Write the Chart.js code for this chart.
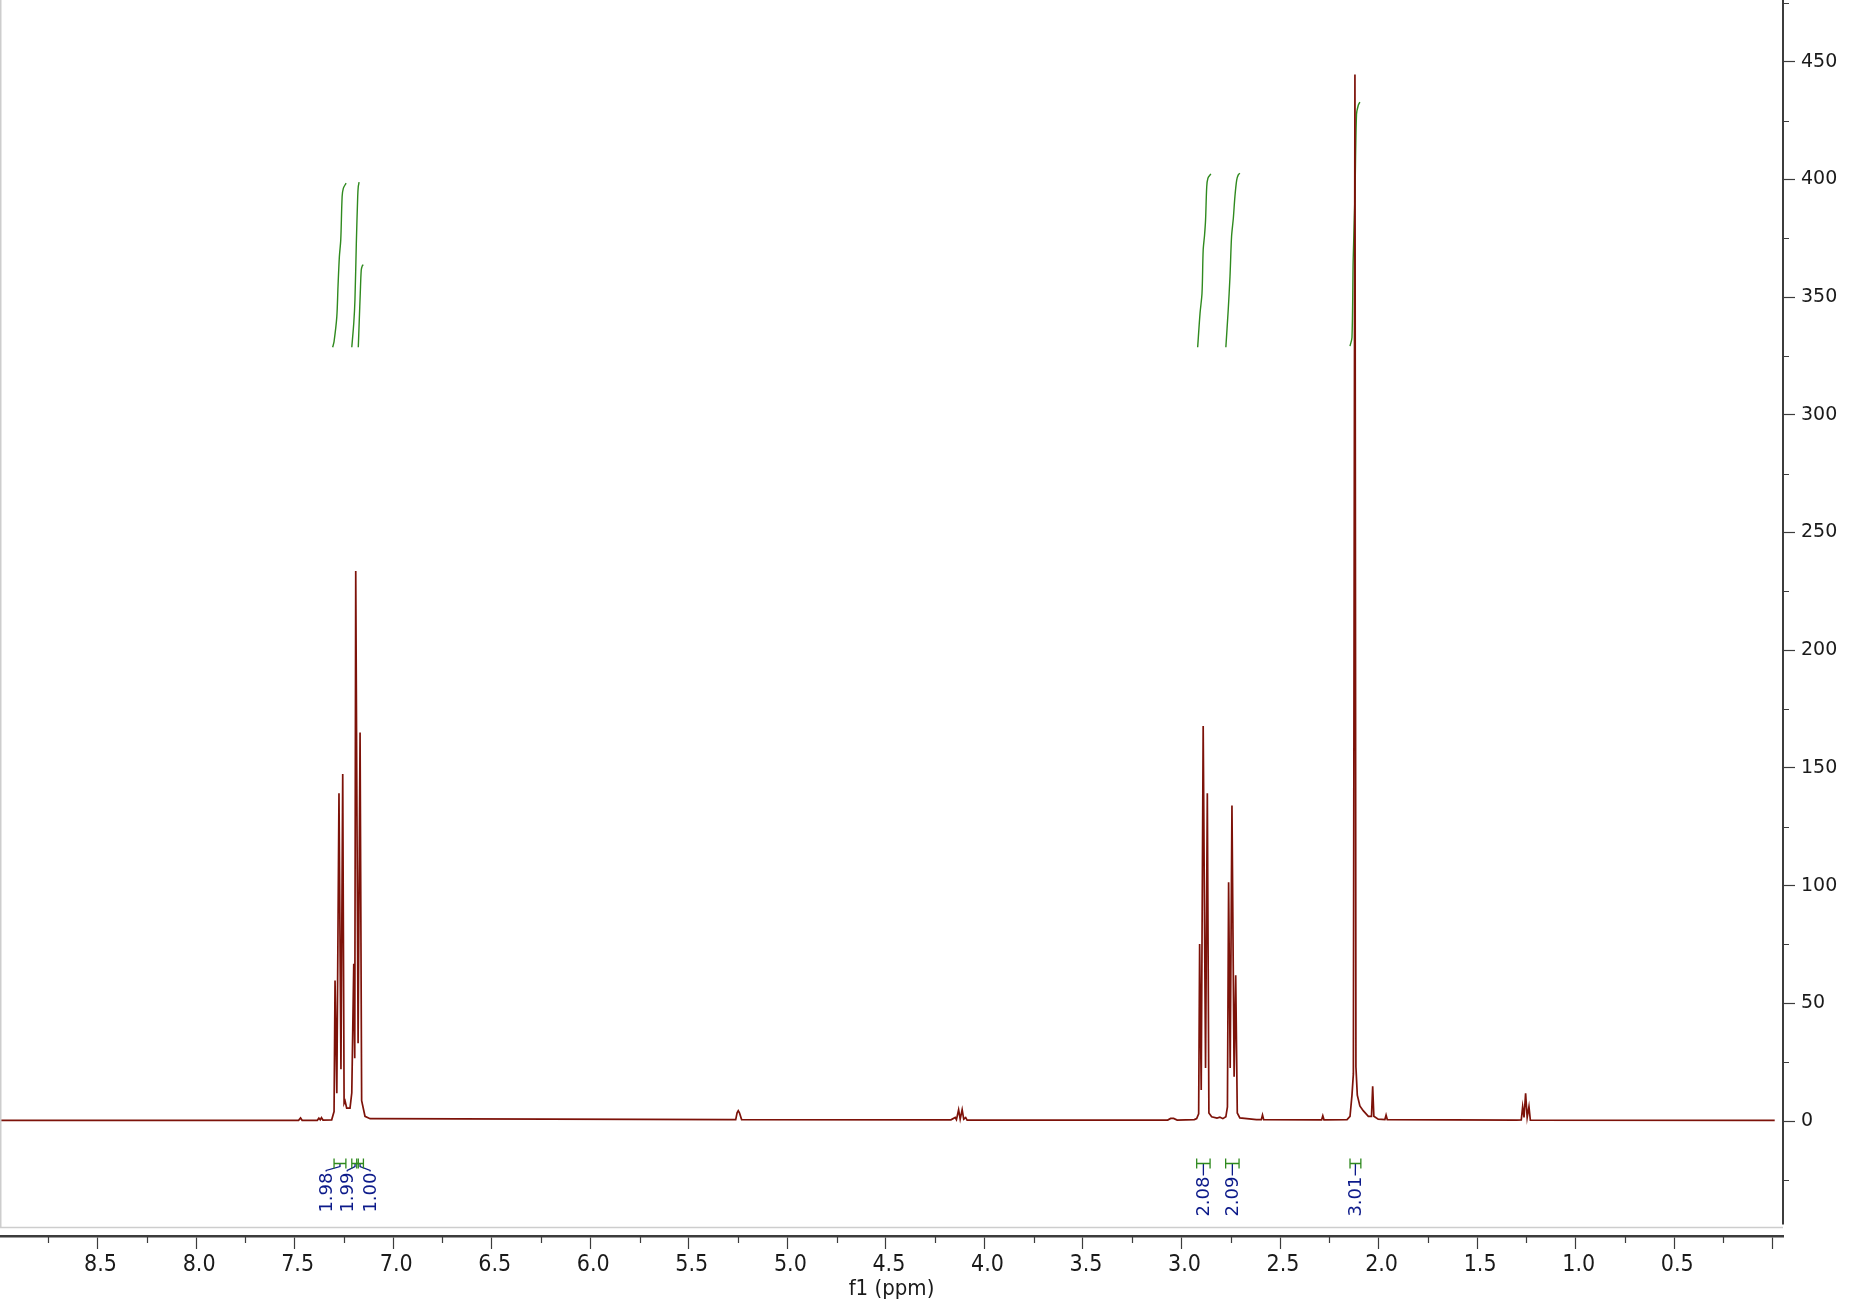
<!DOCTYPE html>
<html>
<head>
<meta charset="utf-8">
<script src="https://cdn.jsdelivr.net/npm/chart.js@4.4.1/dist/chart.umd.min.js"></script>
<style>
  html, body { margin:0; padding:0; background:#fff; }
  #wrap { width:1864px; height:1300px; }
</style>
</head>
<body>
<div id="wrap"><canvas id="nmr" width="1864" height="1300"></canvas></div>
<script>
"use strict";

// 1H spectrum: chemical shift (ppm) -> intensity
const shift = [
  8.995, 7.480, 7.470, 7.462, 7.385, 7.377, 7.370, 7.364, 7.356, 7.312,
  7.300, 7.295, 7.286, 7.275, 7.265, 7.256, 7.249, 7.244, 7.236, 7.219,
  7.210, 7.200, 7.195, 7.190, 7.178, 7.168, 7.160, 7.143, 7.117,
  5.300, 5.262, 5.255, 5.249, 5.243, 5.232,
  4.170, 4.148, 4.142, 4.131, 4.123, 4.113, 4.105, 4.095, 4.088,
  3.070, 3.055, 3.040, 3.022, 2.935,
  2.923, 2.913, 2.908, 2.900, 2.890, 2.878, 2.869, 2.861, 2.847, 2.820, 2.805, 2.790,
  2.775, 2.767, 2.761, 2.753, 2.744, 2.733, 2.725, 2.717, 2.704,
  2.620, 2.595, 2.589, 2.583, 2.300, 2.289, 2.283, 2.277,
  2.160, 2.145, 2.135, 2.128, 2.120, 2.115, 2.108, 2.095, 2.078, 2.052,
  2.036, 2.030, 2.024, 2.002, 1.968, 1.962, 1.956,
  1.300, 1.276, 1.269, 1.262, 1.254, 1.246, 1.237, 1.230, -0.010
];
const intensity = [
  0.3, 0.3, 1.3, 0.3, 0.3, 1.2, 0.5, 1.4, 0.4, 0.5,
  4.0, 59.7, 11.8, 139.2, 22.0, 147.4, 7.5, 8.5, 5.5, 5.5,
  12.0, 66.8, 26.7, 233.6, 33.0, 165.0, 8.6, 2.0, 1.0,
  0.6, 0.6, 3.5, 4.4, 3.5, 0.6,
  0.5, 1.5, 0.6, 4.8, 0.8, 4.8, 0.8, 1.5, 0.4,
  0.4, 1.1, 1.1, 0.4, 0.6,
  1.0, 3.0, 75.2, 13.2, 167.8, 22.5, 139.2, 3.4, 1.8, 1.2, 1.6, 1.0,
  1.8, 6.0, 101.4, 22.5, 134.0, 18.8, 61.9, 3.4, 1.3,
  0.6, 0.6, 2.6, 0.6, 0.5, 0.5, 2.2, 0.5,
  0.6, 2.0, 11.0, 20.0, 444.6, 23.0, 11.0, 6.4, 4.4, 2.0,
  2.0, 14.8, 2.0, 0.8, 0.6, 2.5, 0.6,
  0.4, 0.5, 6.1, 1.5, 11.8, 1.5, 6.1, 0.4, 0.3
];

// integral traces (drawn on the same axes)
const int1Ppm = [7.307, 7.300, 7.286, 7.280, 7.273, 7.266, 7.259, 7.253, 7.239];
const int1Val = [328.7, 331.1, 341.7, 354.4, 367.2, 374.3, 392.7, 396.2, 398.4];
const int2Ppm = [7.210, 7.200, 7.194, 7.187, 7.180, 7.177, 7.173];
const int2Val = [328.7, 338.9, 348.8, 372.8, 392.7, 397.0, 398.8];
const int3Ppm = [7.177, 7.172, 7.167, 7.162, 7.157, 7.152];
const int3Val = [328.7, 340.3, 351.6, 361.5, 363.2, 363.8];
const int4Ppm = [2.918, 2.906, 2.896, 2.890, 2.883, 2.878, 2.872, 2.866, 2.851];
const int4Val = [328.7, 343.1, 351.6, 370.0, 376.4, 382.7, 396.9, 400.5, 402.3];
const int5Ppm = [2.775, 2.763, 2.754, 2.746, 2.737, 2.729, 2.720, 2.712, 2.704];
const int5Val = [328.7, 344.5, 358.7, 375.7, 383.5, 392.7, 399.7, 401.9, 402.6];
const int6Ppm = [2.145, 2.135, 2.129, 2.120, 2.112, 2.103, 2.095];
const int6Val = [329.2, 332.8, 365.6, 392.9, 427.7, 431.5, 432.8];

// integration regions and their values
const intFrom    = [7.300, 7.210, 7.185, 2.923, 2.776, 2.145];
const intTo      = [7.240, 7.177, 7.151, 2.855, 2.708, 2.090];
const intLabels  = ['1.98', '1.99', '1.00', '2.08', '2.09', '3.01'];
const intLabelAt = [7.340, 7.233, 7.117, 2.889, 2.742, 2.118];

const xTicks = [8.5, 8.0, 7.5, 7.0, 6.5, 6.0, 5.5, 5.0, 4.5, 4.0, 3.5, 3.0, 2.5, 2.0, 1.5, 1.0, 0.5, 0.0];
const yTicks = [0, 50, 100, 150, 200, 250, 300, 350, 400, 450];

const SPEC = '#7d1209';
const INTG = '#2f8a1e';
const NAVY = '#0c1a8a';
const AXIS = '#3c3c3c';

function pts(xs, ys) { return xs.map((x, i) => ({ x, y: ys[i] })); }

const decor = {
  id: 'decor',
  afterDraw(chart) {
    const { ctx, chartArea: ca, scales } = chart;
    const xs = scales.x, ys = scales.y;
    ctx.save();

    // light frame round the plot
    const fb = Math.round(ys.getPixelForValue(-45)) + 0.5;
    ctx.strokeStyle = '#cdcdcd';
    ctx.lineWidth = 1.5;
    ctx.beginPath();
    ctx.moveTo(0.75, 0); ctx.lineTo(0.75, fb); ctx.lineTo(ca.right, fb);
    ctx.stroke();

    // right axis line
    ctx.strokeStyle = AXIS;
    ctx.lineWidth = 2;
    ctx.beginPath();
    ctx.moveTo(ca.right, 0); ctx.lineTo(ca.right, ys.getPixelForValue(-44));
    ctx.stroke();

    // minor ticks
    ctx.lineWidth = 1.2;
    ctx.beginPath();
    for (let v = -25; v <= 475; v += 50) {
      const y = Math.round(ys.getPixelForValue(v)) + 0.5;
      ctx.moveTo(ca.right, y); ctx.lineTo(ca.right + 6, y);
    }
    for (let v = 0.25; v <= 8.75; v += 0.5) {
      const x = Math.round(xs.getPixelForValue(v)) + 0.5;
      ctx.moveTo(x, ca.bottom); ctx.lineTo(x, ca.bottom + 7);
    }
    ctx.stroke();

    // integration brackets + labels
    const yb = Math.round(ys.getPixelForValue(-17.8)) + 0.5;
    intLabels.forEach((lab, i) => {
      const x1 = xs.getPixelForValue(intFrom[i]);
      const x2 = xs.getPixelForValue(intTo[i]);
      const cx = (x1 + x2) / 2;
      const lx = xs.getPixelForValue(intLabelAt[i]);
      const hooked = Math.abs(lx - cx) > 2;
      const top = hooked ? yb + 8 : yb + 12;

      ctx.strokeStyle = NAVY;
      ctx.lineWidth = 1.3;
      ctx.beginPath();
      ctx.moveTo(cx, yb);
      if (hooked) {
        ctx.lineTo(cx, yb + 3);
        ctx.lineTo(lx, yb + 7);
      }
      ctx.lineTo(lx, top);
      ctx.stroke();

      ctx.strokeStyle = INTG;
      ctx.lineWidth = 1.3;
      ctx.beginPath();
      ctx.moveTo(x1, yb); ctx.lineTo(x2, yb);
      ctx.moveTo(x1, yb - 5); ctx.lineTo(x1, yb + 5);
      ctx.moveTo(x2, yb - 5); ctx.lineTo(x2, yb + 5);
      ctx.stroke();

      ctx.save();
      ctx.translate(lx, top + 1);
      ctx.rotate(-Math.PI / 2);
      ctx.font = '18px "DejaVu Sans", Verdana, sans-serif';
      ctx.fillStyle = NAVY;
      ctx.textAlign = 'right';
      ctx.textBaseline = 'middle';
      ctx.fillText(lab, 0, 1);
      ctx.restore();
    });
    ctx.restore();
  }
};

const intStyle = { borderColor: INTG, borderWidth: 1.4, pointRadius: 0, tension: 0.3, fill: false };

new Chart(document.getElementById('nmr'), {
  type: 'line',
  data: {
    datasets: [
      { data: pts(shift, intensity), borderColor: SPEC, borderWidth: 1.7, pointRadius: 0, tension: 0, fill: false },
      Object.assign({ data: pts(int1Ppm, int1Val) }, intStyle),
      Object.assign({ data: pts(int2Ppm, int2Val) }, intStyle),
      Object.assign({ data: pts(int3Ppm, int3Val) }, intStyle),
      Object.assign({ data: pts(int4Ppm, int4Val) }, intStyle),
      Object.assign({ data: pts(int5Ppm, int5Val) }, intStyle),
      Object.assign({ data: pts(int6Ppm, int6Val) }, intStyle)
    ]
  },
  options: {
    responsive: false,
    animation: false,
    events: [],
    layout: { padding: 0 },
    plugins: { legend: { display: false }, tooltip: { enabled: false } },
    scales: {
      x: {
        type: 'linear',
        reverse: true,
        min: -0.052,
        max: 8.995,
        afterBuildTicks: s => { s.ticks = xTicks.map(v => ({ value: v })); },
        afterFit: s => { s.height = 64; s.paddingLeft = 0; s.paddingRight = 0; },
        ticks: {
          autoSkip: false,
          maxRotation: 0,
          padding: 2,
          labelOffset: 3,
          color: '#1a1a1a',
          font: { family: '"DejaVu Sans Condensed", "DejaVu Sans", sans-serif', size: 23 },
          callback: v => (v > 0.1 ? v.toFixed(1) : '')
        },
        grid: { drawOnChartArea: false, drawTicks: true, tickLength: 13, tickColor: AXIS, tickWidth: 1.2 },
        border: { display: true, color: AXIS, width: 2.5 },
        title: {
          display: true,
          text: 'f1 (ppm)',
          color: '#1a1a1a',
          font: { family: '"DejaVu Sans Condensed", "DejaVu Sans", sans-serif', size: 22 },
          padding: { top: 0, bottom: -2 }
        }
      },
      y: {
        type: 'linear',
        position: 'right',
        min: -48.85,
        max: 476.2,
        afterBuildTicks: s => { s.ticks = yTicks.map(v => ({ value: v })); },
        afterFit: s => { s.width = 81; s.paddingTop = 0; s.paddingBottom = 0; },
        ticks: {
          padding: 6,
          color: '#1a1a1a',
          font: { family: '"DejaVu Sans", Verdana, sans-serif', size: 19 },
          callback: v => String(v)
        },
        grid: { drawOnChartArea: false, drawTicks: true, tickLength: 12, tickColor: AXIS, tickWidth: 1.2 },
        border: { display: false }
      }
    }
  },
  plugins: [decor]
});
</script>
</body>
</html>
